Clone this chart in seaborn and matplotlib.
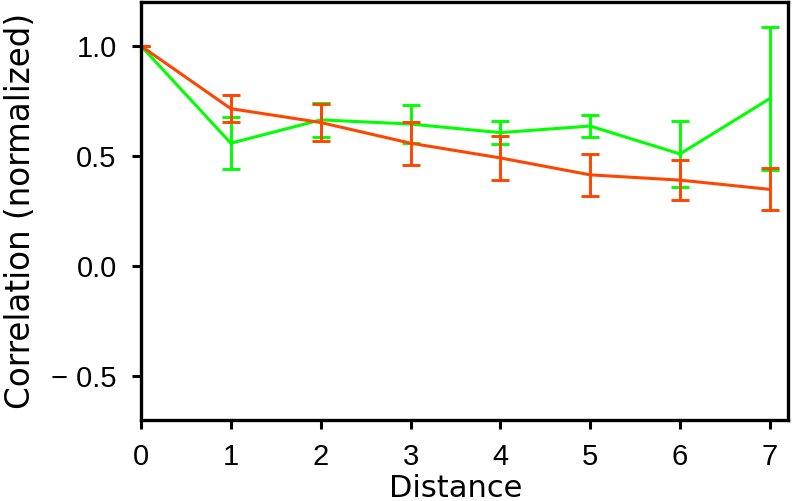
import numpy as np
import pandas as pd
import matplotlib
matplotlib.use('Agg')
import matplotlib.pyplot as plt
import seaborn as sns

# data
distance = [0, 1, 2, 3, 4, 5, 6, 7]
green_mean = [1.0, 0.558, 0.664, 0.645, 0.606, 0.636, 0.509, 0.761]
green_err = [0.0, 0.117, 0.077, 0.085, 0.052, 0.049, 0.148, 0.325]
orange_mean = [1.0, 0.715, 0.652, 0.558, 0.491, 0.414, 0.390, 0.348]
orange_err = [0.0, 0.060, 0.082, 0.097, 0.100, 0.097, 0.090, 0.095]
ytick_vals = [-0.5, 0.0, 0.5, 1.0]
ytick_labels = ['\u2212 0.5', '0.0', '0.5', '1.0']

df = pd.DataFrame({'distance': distance * 2,
                   'corr': green_mean + orange_mean,
                   'err': green_err + orange_err,
                   'series': ['green'] * 8 + ['orange'] * 8})

sns.set_style('ticks')
plt.rcParams['font.family'] = ['DejaVu Sans']
plt.rcParams['text.color'] = 'black'
plt.rcParams['axes.labelcolor'] = 'black'
plt.rcParams['xtick.color'] = 'black'
plt.rcParams['ytick.color'] = 'black'

fig = plt.figure(figsize=(7.99, 5.01), dpi=100)
ax = fig.add_axes([0.1765, 0.162, 0.8095, 0.834])

colors = {'green': '#00ff00', 'orange': '#ff4500'}
for name in ['green', 'orange']:
    sub = df[df['series'] == name]
    ax.errorbar(sub['distance'], sub['corr'], yerr=sub['err'], fmt='none',
                ecolor=colors[name], elinewidth=2.1, capsize=6.4, capthick=2.1)
    sns.lineplot(data=sub, x='distance', y='corr', color=colors[name],
                 linewidth=2.2, ax=ax, legend=False)

ax.set_xlim(0, 7.2)
ax.set_ylim(-0.7, 1.2)
ax.set_xticks(distance)
ax.set_yticks(ytick_vals)
ax.set_yticklabels(ytick_labels)
for lab in ax.get_xticklabels() + ax.get_yticklabels():
    lab.set_family(['Liberation Sans', 'DejaVu Sans'])
    lab.set_fontsize(21)
ax.tick_params(axis='both', length=6.5, width=2.2, color='black', labelcolor='black')
ax.tick_params(axis='x', pad=10)
ax.tick_params(axis='y', pad=11)

for sp in ax.spines.values():
    sp.set_linewidth(2.4)
    sp.set_color('black')

# the reference crops this label at the bottom edge; kept just inside here
ax.set_xlabel('Distance', fontsize=22, labelpad=2)
ax.xaxis.label.set_x(0.487)
ax.set_ylabel('Correlation (normalized)', fontsize=23.5, labelpad=10)

fig.savefig('out.png', dpi=100)
